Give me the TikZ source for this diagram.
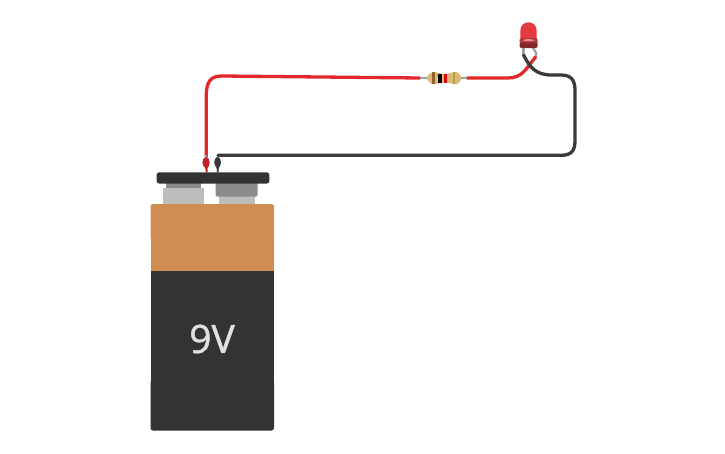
\documentclass[tikz,border=0pt]{standalone}
\usepackage{fontspec}
\setmainfont{Open Sans}
\newfontfamily\labelfont[FakeBold=1.2]{Open Sans}
\definecolor{wirered}{HTML}{E2282A}
\definecolor{wireblack}{HTML}{3A3A3A}
\definecolor{batdark}{HTML}{333333}
\definecolor{batorange}{HTML}{D08D52}
\definecolor{termdark}{HTML}{8C8C8C}
\definecolor{termlight}{HTML}{BDBDBD}
\definecolor{leadgrey}{HTML}{A0A0A0}
\definecolor{resbody}{HTML}{DDB878}
\definecolor{ledred}{HTML}{E53A40}
\definecolor{ledrim}{HTML}{B03A3E}
\definecolor{ledbase}{HTML}{84282C}
\tikzset{
  wire/.style={line width=3.3pt,line cap=round},
  redwire/.style={wire,draw=wirered},
  blackwire/.style={wire,draw=wireblack},
  lead/.style={draw=leadgrey,line width=2.2pt},
}
\begin{document}
\begin{tikzpicture}[x=1pt,y=-1pt]
\useasboundingbox[fill=white] (0,0) rectangle (725,453);
% battery
\fill[batdark,rounded corners=2.5pt] (150.5,380) rectangle (274,430.5);
\fill[batdark] (150.5,271) rectangle (274,400);
\fill[batorange,rounded corners=2.5pt] (150.5,204) rectangle (274,240);
\fill[batorange] (150.5,225) rectangle (274,271);
\fill[termdark] (165.7,182) rectangle (201,189);
\fill[termlight] (162.5,188.3) rectangle (204,204);
\fill[termlight] (219,195) rectangle (254.7,204);
\fill[termdark,rounded corners=1.5pt] (215.7,182) rectangle (257.7,196.7);
\fill[batdark,rounded corners=2.5pt] (156.7,172.3) rectangle (269.3,183.5);
\node[text=white!88!black,font=\labelfont\fontsize{39}{39}\selectfont,inner sep=0pt] (label) at (212,339) {9V};
% anchors
\coordinate (redclip) at (206.3,157);
\coordinate (blackclip) at (218,155.3);
\coordinate (resL) at (420,78);
\coordinate (resR) at (467,78);
\coordinate (legA) at (523.5,55);
\coordinate (legB) at (535.5,57);
% wires
\draw[redwire] (redclip) -- (206.3,96) .. controls (206.3,81) and (211,76) .. (222,76) -- (resL);
\draw[redwire] (resR) -- (508,78) .. controls (522,78) and (526,69) .. (legB);
\draw[blackwire] (legA) .. controls (530,67) and (535,75) .. (552,75) -- (561,75) .. controls (571,75) and (575,80) .. (575,90) -- (575,141) .. controls (575,151) and (571,155.3) .. (561,155.3) -- (blackclip);
% clips
\fill[leadgrey] (205.2,155) rectangle (207.4,158);
\fill[wirered!85!black] (206,157) .. controls (203.6,157.5) and (202.4,160) .. (202.4,162.5) .. controls (202.4,165.5) and (204.4,166.5) .. (205.2,168) -- (206,172.5) -- (207.6,172.5) -- (207.6,168) .. controls (208.6,166.5) and (209.6,165.5) .. (209.6,162.5) .. controls (209.6,160) and (208.4,157.5) .. (206,157) -- cycle;
\fill[wireblack] (217.6,156.5) .. controls (215.4,157) and (214.2,160) .. (214.2,162.5) .. controls (214.2,165.5) and (216,166.5) .. (216.6,168) -- (217,172.5) -- (218.6,172.5) -- (218.8,168) .. controls (219.6,166.5) and (221,165.5) .. (221,162.5) .. controls (221,160) and (219.8,157) .. (217.6,156.5) -- cycle;
% resistor
\draw[lead] (resL) -- (427,78);
\draw[lead] (461,78) -- (resR);
\fill[resbody,rounded corners=1.5pt] (426,78) -- (431,72.2) -- (437,72.2) -- (440,73.8) -- (449,73.8) -- (452,72.2) -- (458,72.2) -- (462,78) -- (458,84) -- (452,84) -- (449,82.6) -- (440,82.6) -- (437,84) -- (431,84) -- cycle;
\fill[brown!75!black] (431.8,72.3) rectangle (435.3,83.9);
\fill[black] (438.3,73.8) rectangle (441.7,82.6);
\fill[red!90!black] (444,73.8) rectangle (447.3,82.6);
\fill[yellow!60!black!90!resbody] (453.4,72.3) rectangle (455.2,83.9);
% led
\draw[lead] (523.4,47) -- (523.4,54);
\draw[lead] (532.5,47) -- (536.2,53) -- (535.6,56);
\fill[ledred] (520.3,39) -- (520.3,31) .. controls (520.3,25.5) and (524,22.3) .. (528.5,22.3) .. controls (533,22.3) and (536.7,25.5) .. (536.7,31) -- (536.7,39) -- cycle;
\fill[ledrim,rounded corners=1.5pt] (519.6,38) rectangle (537.6,44.5);
\fill[ledbase,rounded corners=2pt] (519.6,42.5) rectangle (537.6,48);
\fill[white!40!ledred] (522.5,40.3) .. controls (526,38.6) and (531,38.6) .. (534.8,40.3) .. controls (531,41.6) and (526,41.6) .. (522.5,40.3) -- cycle;
\end{tikzpicture}
\end{document}
